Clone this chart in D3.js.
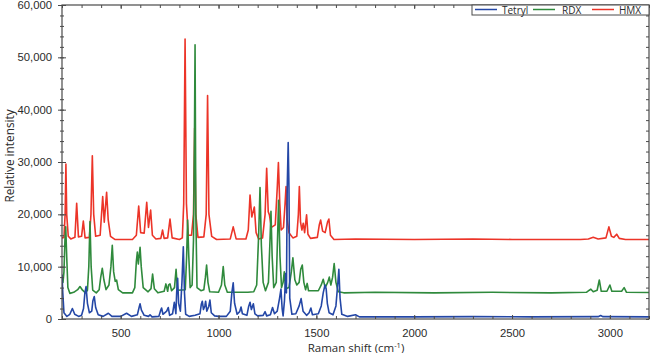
<!DOCTYPE html>
<html>
<head>
<meta charset="utf-8">
<script src="https://cdn.jsdelivr.net/npm/d3@7"></script>
<style>
  html, body { margin: 0; padding: 0; background: #fff; }
  svg { display: block; font-family: "Open Sans", "Noto Sans", sans-serif; }
</style>
</head>
<body>
<svg id="chart" width="650" height="353"></svg>
<script>
// ---------- data (Raman shift cm-1, intensity) ----------
const seriesNames = ["Tetryl", "RDX", "HMX"];
const seriesColors = ["#2447a6", "#2f8a3c", "#ec3428"];

const hmx = [
  [200,15500],[210,15600],[216,20000],[220,29600],[224,20000],[232,15800],[245,15300],
  [266,15600],[275,22100],[284,15700],[300,15800],[309,18700],[318,15500],
  [340,15600],[348,20000],[355,31200],[362,20000],[372,15800],
  [395,16000],[402,20000],[408,23400],[416,18500],[428,24200],[436,19000],[448,15800],[470,15200],
  [560,15200],[580,16000],[592,21600],[602,16500],[620,16400],[633,22300],[642,17500],[653,20800],[662,16000],[680,15300],
  [705,15400],[714,17000],[722,15400],[740,15500],[752,19100],[763,15500],
  [800,15200],[815,15500],[822,22000],[829,53500],[836,22000],[845,16000],
  [862,16000],[872,20000],[878,36500],[884,20000],[895,15600],
  [925,15700],[937,20000],[944,42700],[951,20000],[965,15800],[990,15200],
  [1060,15300],[1075,17600],[1090,15300],
  [1140,15300],[1152,17000],[1161,23700],[1170,19500],[1183,21400],[1192,16500],[1205,15300],
  [1225,15500],[1238,20000],[1246,28800],[1254,20500],[1260,19900],[1270,17500],
  [1290,18000],[1300,25000],[1306,29900],[1313,22000],[1320,17000],[1332,17500],[1340,22000],[1345,25300],[1351,19000],[1360,16500],[1380,15500],
  [1400,15800],[1408,20000],[1413,25300],[1419,18500],[1426,17000],[1433,18300],[1440,16500],[1450,19900],[1457,16200],[1470,15400],
  [1505,15600],[1515,18000],[1522,18900],[1532,16800],[1545,16500],[1557,18500],[1564,19100],[1572,16000],[1590,15200],
  [1700,15300],[2000,15200],[2300,15300],[2500,15200],[2850,15200],[2890,15300],[2915,15600],[2940,15300],
  [2980,15500],[2995,17600],[3008,15800],[3020,15600],[3035,16200],[3048,15400],[3080,15200],[3200,15200]
];

const rdx = [
  [200,8000],[205,7000],[210,9000],[215,15000],[219,17600],[224,12000],[230,6000],[240,4900],[260,5100],[280,5600],[292,6200],[305,5500],[320,5000],
  [330,5500],[337,10000],[343,18600],[349,10000],[357,5500],[375,5000],
  [390,5600],[398,8000],[406,9700],[414,7500],[425,5600],[440,6500],[450,10000],[457,14100],[464,9000],[472,7200],[479,7450],[488,5600],[510,5000],
  [560,5000],[572,6000],[580,11000],[585,12800],[590,10500],[599,13700],[605,10000],[615,6000],[640,5200],
  [655,5800],[663,8600],[672,5800],[690,5000],
  [722,5300],[731,6700],[740,5300],[745,6500],[752,6700],[760,5400],[775,6000],[783,9500],[790,5500],
  [830,5600],[837,12000],[842,18900],[848,12000],[855,6000],[865,6500],[872,15000],[877,35000],[880,52400],[884,20000],[890,6000],
  [910,5400],[925,5600],[933,8000],[939,10300],[946,7000],[955,5200],
  [1000,5100],[1015,6500],[1024,10000],[1032,6500],[1045,5100],
  [1150,5100],[1180,5200],[1195,6500],[1205,16000],[1212,25100],[1219,14000],[1228,7000],[1240,5400],
  [1255,7000],[1263,15000],[1268,20600],[1274,12000],[1282,6000],[1295,7000],[1302,16000],[1307,22700],[1314,12000],[1322,6000],
  [1330,7000],[1336,9000],[1343,5800],[1360,6000],[1372,9000],[1380,11700],[1390,7500],[1400,6500],[1412,7000],[1420,9500],[1428,10300],[1436,7000],
  [1445,5600],[1453,6800],[1460,5400],[1490,5400],[1510,5400],[1525,6500],[1535,7600],[1545,6000],[1558,7000],[1566,8000],[1574,6500],
  [1583,8000],[1591,10600],[1600,7000],[1612,5200],[1640,5000],
  [1800,5100],[2100,5000],[2400,5100],[2700,5000],[2880,5100],[2895,5500],[2903,5700],[2915,5200],[2935,5500],[2946,7450],[2956,5300],
  [2985,5300],[3000,6500],[3010,5300],[3060,5300],[3073,6000],[3085,5100],[3200,5050]
];

const tetryl = [
  [200,8500],[204,5000],[210,1200],[225,500],[240,900],[253,2000],[265,900],[285,500],[300,700],[310,2000],[317,5000],[323,6200],[330,3000],
  [340,1200],[352,1500],[358,3500],[365,4300],[372,2200],[385,800],[410,500],[437,1100],[455,500],[500,500],[530,1100],[555,500],
  [585,800],[594,2200],[599,2900],[606,1700],[620,700],[642,500],[650,800],[660,400],[695,500],[703,1500],[709,2100],[716,900],
  [735,1500],[743,2200],[750,700],[765,1000],[774,3200],[782,1000],[786,5000],[791,7800],[796,3000],[805,1500],[813,7000],[820,13800],
  [826,5000],[832,900],[850,500],[880,700],[905,1000],[912,2800],[917,3400],[923,1800],[930,2500],[934,3400],[940,1500],[950,2400],
  [956,3600],[963,1200],[980,600],[1000,500],[1040,500],[1060,1500],[1068,5000],[1075,6900],[1082,3000],[1095,900],[1108,1400],
  [1115,2300],[1122,1000],[1145,700],[1154,2400],[1161,3200],[1168,1800],[1178,2900],[1186,1000],[1200,600],[1228,700],[1238,1400],
  [1246,600],[1265,800],[1276,2200],[1286,1000],[1300,1500],[1312,4000],[1319,5700],[1325,2000],[1330,600],[1337,3500],[1343,8700],
  [1347,5000],[1351,25000],[1356,33700],[1360,25000],[1364,4000],[1375,900],[1395,1000],[1412,2500],[1422,3900],[1432,1500],
  [1450,700],[1463,1200],[1472,2100],[1480,800],[1510,1000],[1525,2500],[1535,5000],[1544,6500],[1550,5800],[1556,3000],[1565,1200],
  [1585,800],[1600,2500],[1610,7000],[1615,9500],[1621,4000],[1630,900],[1660,500],[1700,800],[1720,400],[2000,400],[2300,450],
  [2600,400],[2940,450],[2953,650],[2965,450],[3200,400]
];

const xTickValues = [500, 1000, 1500, 2000, 2500, 3000];
const yTickValues = [0, 10000, 20000, 30000, 40000, 50000, 60000];
const xLabel = "Raman shift (cm";
const yLabel = "Relative intensity";

// ---------- layout ----------
const svg = d3.select("#chart");
const pL = 62, pR = 649, pT = 5, pB = 319;
const x = d3.scaleLinear().domain([200, 3200]).range([pL, pR]);
const y = d3.scaleLinear().domain([0, 60000]).range([pB, pT]);
const axisColor = "#4a4a4a";
const textColor = "#2b2b2b";
const tickFont = "11.3px";

svg.append("clipPath").attr("id", "clip")
  .append("rect").attr("x", pL).attr("y", pT).attr("width", pR - pL).attr("height", pB - pT);

// ---------- lines (HMX under RDX under Tetryl) ----------
const line = d3.line().x(d => x(d[0])).y(d => y(d[1]));
const drawOrder = [[hmx, 2], [rdx, 1], [tetryl, 0]];
const g = svg.append("g").attr("clip-path", "url(#clip)");
drawOrder.forEach(([data, i]) => {
  g.append("path").datum(data)
    .attr("d", line).attr("fill", "none")
    .attr("stroke", seriesColors[i]).attr("stroke-width", 1.6)
    .attr("stroke-linejoin", "round");
});

// ---------- axes ----------
function styleAxis(sel) {
  sel.select(".domain").remove();
  sel.selectAll(".tick line").attr("stroke", axisColor).attr("stroke-width", 1);
  sel.selectAll("text").attr("fill", textColor).style("font-size", tickFont);
}
const minorX = d3.range(200, 3201, 100);
const minorY = d3.range(0, 60001, 2000);

// bottom
svg.append("g").attr("transform", `translate(0,${pB})`)
  .call(d3.axisBottom(x).tickValues(minorX).tickSize(-3).tickFormat(""))
  .call(styleAxis);
const gb = svg.append("g").attr("transform", `translate(0,${pB})`)
  .call(d3.axisBottom(x).tickValues(xTickValues).tickSize(-4).tickFormat(d3.format("d")))
  .call(styleAxis);
gb.selectAll(".tick text").attr("y", 17.5).attr("dy", 0);
// top
svg.append("g").attr("transform", `translate(0,${pT})`)
  .call(d3.axisTop(x).tickValues(minorX).tickSize(-3).tickFormat(""))
  .call(styleAxis);
svg.append("g").attr("transform", `translate(0,${pT})`)
  .call(d3.axisTop(x).tickValues(xTickValues).tickSize(-4).tickFormat(""))
  .call(styleAxis);
// left (ticks cross the axis)
const gl = svg.append("g").attr("transform", `translate(${pL},0)`)
  .call(d3.axisLeft(y).tickValues(minorY).tickSize(2).tickFormat(""))
  .call(styleAxis);
gl.selectAll(".tick line").attr("x1", -2).attr("x2", 2);
const gl2 = svg.append("g").attr("transform", `translate(${pL},0)`)
  .call(d3.axisLeft(y).tickValues(yTickValues).tickSize(4).tickPadding(6).tickFormat(d3.format(",")))
  .call(styleAxis);
gl2.selectAll(".tick line").attr("x1", -4).attr("x2", 4);
// right
svg.append("g").attr("transform", `translate(${pR},0)`)
  .call(d3.axisRight(y).tickValues(minorY).tickSize(-3).tickFormat(""))
  .call(styleAxis);

// frame
svg.append("rect").attr("x", pL).attr("y", pT).attr("width", pR - pL).attr("height", pB - pT)
  .attr("fill", "none").attr("stroke", axisColor).attr("stroke-width", 1.2);

// axis titles
const xt = svg.append("text").attr("x", 356).attr("y", 351.5).attr("text-anchor", "middle")
  .attr("fill", textColor).style("font-size", "11.5px").text(xLabel);
xt.append("tspan").attr("dy", -4).style("font-size", "7.5px").text("-1");
xt.append("tspan").attr("dy", 4).text(")");
svg.append("text").attr("transform", "translate(13.5,156) rotate(-90)").attr("text-anchor", "middle")
  .attr("fill", textColor).style("font-size", "11.8px").text(yLabel);

// ---------- legend ----------
const lg = svg.append("g");
lg.append("rect").attr("x", 472).attr("y", pT).attr("width", pR - 472).attr("height", 10)
  .attr("fill", "#fff").attr("stroke", axisColor).attr("stroke-width", 1);
const legendX = [475, 533, 592];
const legendTextX = [502, 562, 619];
seriesNames.forEach((name, i) => {
  lg.append("line").attr("x1", legendX[i]).attr("x2", legendX[i] + 22).attr("y1", 9.5).attr("y2", 9.5)
    .attr("stroke", seriesColors[i]).attr("stroke-width", 1.5);
  lg.append("text").attr("x", legendTextX[i]).attr("y", 13.5).attr("fill", textColor)
    .style("font-size", "10px").text(name);
});
</script>
</body>
</html>
